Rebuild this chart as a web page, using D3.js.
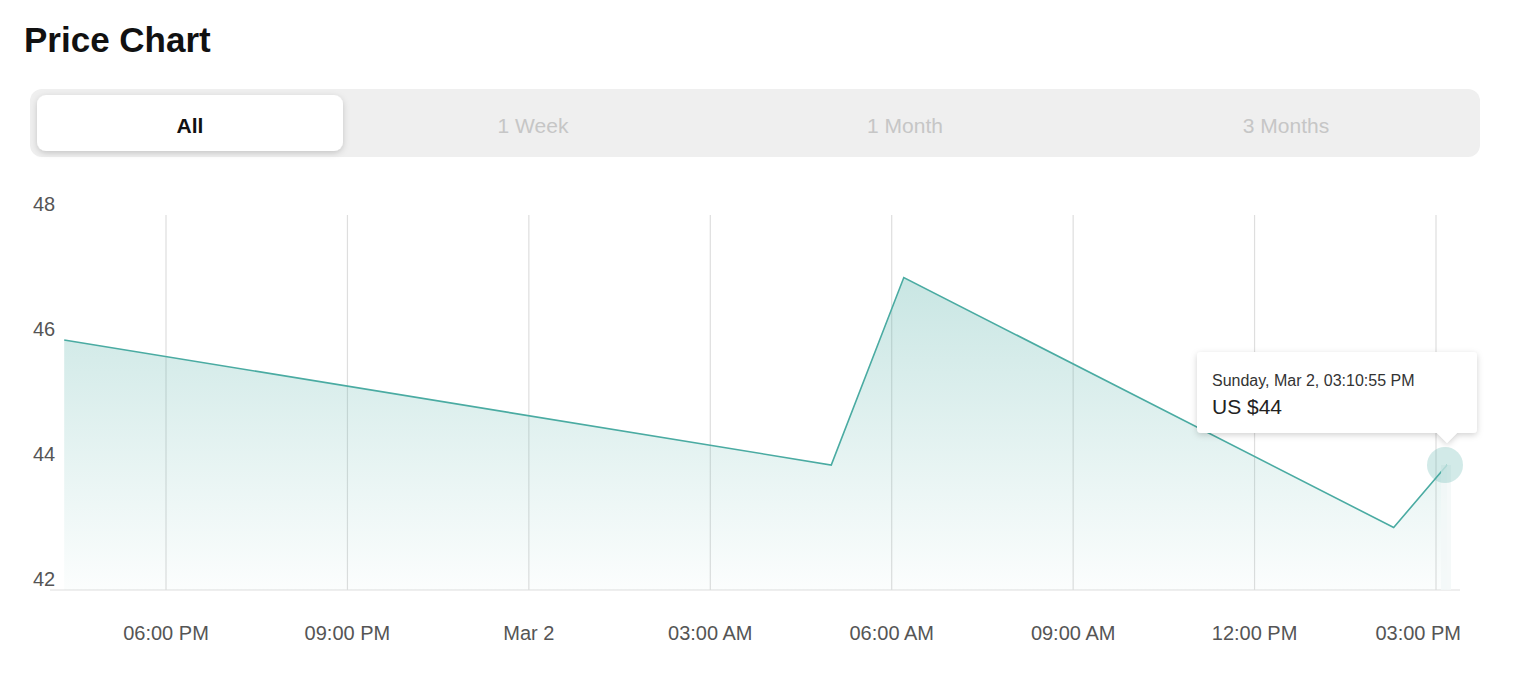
<!DOCTYPE html>
<html><head><meta charset="utf-8">
<script src="https://cdn.jsdelivr.net/npm/d3@7"></script>
<style>body{margin:0;background:#fff;font-family:"Liberation Sans",Arial,sans-serif}</style>
</head><body>
<svg id="c" width="1536" height="675"></svg>
<script>
const tabs = ["All", "1 Week", "1 Month", "3 Months"];
const tabCenters = [190, 533, 905, 1286];
const times = ["2025-03-01T16:19:00", "2025-03-02T05:00:00", "2025-03-02T06:12:00", "2025-03-02T14:18:00", "2025-03-02T15:10:55"];
const prices = [46, 44, 47, 43, 44];
const yTicks = [42, 44, 46, 48];
const xTicks = ["2025-03-01T18:00:00", "2025-03-01T21:00:00", "2025-03-02T00:00:00", "2025-03-02T03:00:00",
  "2025-03-02T06:00:00", "2025-03-02T09:00:00", "2025-03-02T12:00:00", "2025-03-02T15:00:00"];

const svg = d3.select("#c");
const teal = "#4aaba2";
const data = times.map((t, i) => ({ t: new Date(t), v: prices[i] }));

svg.append("text").attr("x", 24).attr("y", 52).attr("font-size", 35).attr("font-weight", 700)
  .attr("fill", "#111").text("Price Chart");

const defs = svg.append("defs");
const sh = defs.append("filter").attr("id", "sh").attr("x", "-20%").attr("y", "-20%").attr("width", "140%").attr("height", "160%");
sh.append("feDropShadow").attr("dx", 0).attr("dy", 2).attr("stdDeviation", 3).attr("flood-opacity", 0.18);
const g1 = defs.append("linearGradient").attr("id", "ar").attr("x1", 0).attr("x2", 0).attr("y1", 0).attr("y2", 1);
g1.append("stop").attr("offset", "0%").attr("stop-color", teal).attr("stop-opacity", 0.3);
g1.append("stop").attr("offset", "100%").attr("stop-color", teal).attr("stop-opacity", 0.02);

// tabs
svg.append("rect").attr("x", 30).attr("y", 89).attr("width", 1450).attr("height", 68).attr("rx", 12).attr("fill", "#efefef");
svg.append("rect").attr("x", 37).attr("y", 95).attr("width", 306).attr("height", 56).attr("rx", 9).attr("fill", "#fff").attr("filter", "url(#sh)");
svg.selectAll(".tab").data(tabs).join("text")
  .attr("x", (d, i) => tabCenters[i]).attr("y", 133).attr("text-anchor", "middle").attr("font-size", 21)
  .attr("font-weight", (d, i) => i === 0 ? 700 : 400).attr("fill", (d, i) => i === 0 ? "#111" : "#c6c6c6")
  .text(d => d);

const x = d3.scaleTime().domain([new Date(xTicks[0]), new Date(xTicks[7])]).range([166, 1436]);
const y = d3.scaleLinear().domain([42, 48]).range([590, 215]);

svg.append("g").selectAll("line").data(xTicks).join("line")
  .attr("x1", d => x(new Date(d))).attr("x2", d => x(new Date(d))).attr("y1", 215).attr("y2", 590)
  .attr("stroke", "#dedede").attr("stroke-width", 1.2);
svg.append("line").attr("x1", 50).attr("x2", 1460).attr("y1", 590).attr("y2", 590).attr("stroke", "#dedede").attr("stroke-width", 1.2);

const fmt = d => (d.getHours() === 0 ? d3.timeFormat("%b %-d")(d) : d3.timeFormat("%I:%M %p")(d));
svg.append("g").selectAll("text").data(xTicks).join("text")
  .attr("x", (d, i) => i === xTicks.length - 1 ? 1461 : x(new Date(d))).attr("y", 640)
  .attr("text-anchor", (d, i) => i === xTicks.length - 1 ? "end" : "middle").attr("font-size", 20).attr("fill", "#555")
  .text(d => fmt(new Date(d)));
svg.append("g").selectAll("text").data(yTicks).join("text")
  .attr("x", 44).attr("y", d => y(d) - 4).attr("text-anchor", "middle").attr("font-size", 20).attr("fill", "#555").text(d => d);

svg.append("path").datum(data).attr("fill", "url(#ar)")
  .attr("d", d3.area().x(d => x(d.t)).y0(590).y1(d => y(d.v)));
svg.append("path").datum(data).attr("fill", "none").attr("stroke", teal).attr("stroke-width", 1.6)
  .attr("d", d3.line().x(d => x(d.t)).y(d => y(d.v)));

const last = data[data.length - 1];
svg.append("rect").attr("x", x(last.t) - 6).attr("y", y(last.v)).attr("width", 10).attr("height", 590 - y(last.v))
  .attr("fill", "#f2f8f7").attr("opacity", 0.8);
svg.append("circle").attr("cx", x(last.t) - 2).attr("cy", y(last.v)).attr("r", 18).attr("fill", teal).attr("opacity", 0.25);

// tooltip
const tt = svg.append("g").attr("filter", "url(#sh)");
tt.append("path").attr("fill", "#fff")
  .attr("d", "M1201,352 H1473 Q1477,352 1477,356 V429 Q1477,433 1473,433 H1457 L1447,443 L1437,433 H1201 Q1197,433 1197,429 V356 Q1197,352 1201,352 Z");
svg.append("text").attr("x", 1212).attr("y", 386).attr("font-size", 16).attr("fill", "#333")
  .text(d3.timeFormat("%A, %b %-d, %I:%M:%S %p")(last.t));
svg.append("text").attr("x", 1212).attr("y", 414).attr("font-size", 21).attr("fill", "#222").text("US $" + last.v);
</script>
</body></html>
